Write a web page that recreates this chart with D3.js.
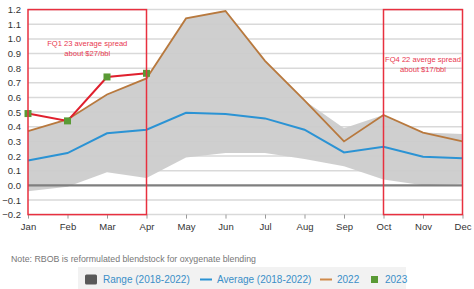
<!DOCTYPE html>
<html><head><meta charset="utf-8">
<script src="https://cdn.jsdelivr.net/npm/d3@7"></script>
<style>body{margin:0;background:#fff}svg{display:block;font-family:"Liberation Sans",Arial,sans-serif}</style>
</head><body><svg id="c" width="474" height="289"></svg>
<script>
const months = ["Jan","Feb","Mar","Apr","May","Jun","Jul","Aug","Sep","Oct","Nov","Dec"];
const yTicks = [-0.2,-0.1,0.0,0.1,0.2,0.3,0.4,0.5,0.6,0.7,0.8,0.9,1.0,1.1,1.2];
const rangeLow  = [-0.04,-0.01,0.09,0.05,0.19,0.22,0.22,0.18,0.13,0.04,0.00,0.01];
const rangeHigh = [0.37,0.45,0.62,0.73,1.14,1.19,0.85,0.58,0.39,0.48,0.36,0.35];
const avg = [0.17,0.22,0.355,0.38,0.495,0.487,0.457,0.38,0.225,0.263,0.195,0.185];
const y2022 = [0.37,0.45,0.62,0.73,1.14,1.19,0.85,0.58,0.30,0.48,0.36,0.30];
const y2023 = [0.49,0.44,0.74,0.765];
const notes = [
  {from:"Jan",to:"Apr",lines:["FQ1 23 average spread","about $27/bbl"],ty:0.95},
  {from:"Oct",to:"Dec",lines:["FQ4 22 averge spread","about $17/bbl"],ty:0.84}
];

const svg = d3.select("#c");
const x = d3.scalePoint().domain(months).range([28,462.5]);
const y = d3.scaleLinear().domain([-0.2,1.2]).range([214.6,9.6]);

// gridlines
svg.append("g").selectAll("line").data(yTicks.filter(v=>Math.abs(v)>1e-9)).join("line")
  .attr("x1",28).attr("x2",462.5).attr("y1",d=>y(d)).attr("y2",d=>y(d))
  .attr("stroke","#d9d9d9").attr("stroke-width",1.5);

// range band
const area = d3.area().x((d,i)=>x(months[i])).y0((d,i)=>y(rangeLow[i])).y1(d=>y(d));
svg.append("path").datum(rangeHigh).attr("d",area).attr("fill","#cccccc").attr("opacity",0.95);

// zero line
svg.append("line").attr("x1",28).attr("x2",462.5).attr("y1",y(0)).attr("y2",y(0))
  .attr("stroke","#7f7f7f").attr("stroke-width",2.2);

// y axis labels
const yAxis = d3.axisLeft(y).tickValues(yTicks).tickFormat(d3.format(".1f")).tickSize(0).tickPadding(7);
const ga = svg.append("g").attr("transform","translate(28,0)").call(yAxis);
ga.select(".domain").remove();
ga.selectAll("text").attr("font-size",9.5).attr("fill","#333").style("font-family","Liberation Sans, Arial");

// x axis
const xAxis = d3.axisBottom(x).tickSize(4).tickPadding(5);
const gx = svg.append("g").attr("transform",`translate(0,${y(-0.2)})`).call(xAxis);
gx.select(".domain").remove();
gx.selectAll("line").attr("stroke","#999");
gx.selectAll("text").attr("font-size",9.5).attr("fill","#333").style("font-family","Liberation Sans, Arial");

// lines
const line = d3.line().x((d,i)=>x(months[i])).y(d=>y(d));
svg.append("path").datum(avg).attr("d",line).attr("fill","none").attr("stroke","#2b93d4").attr("stroke-width",2);
svg.append("path").datum(y2022).attr("d",line).attr("fill","none").attr("stroke","#b8793e").attr("stroke-width",1.8);
svg.append("path").datum(y2023).attr("d",line).attr("fill","none").attr("stroke","#e0202e").attr("stroke-width",2);
svg.append("g").selectAll("rect").data(y2023).join("rect")
  .attr("x",(d,i)=>x(months[i])-3.5).attr("y",d=>y(d)-3.5).attr("width",7).attr("height",7)
  .attr("fill","#5a9a35");

// annotation boxes
notes.forEach(n=>{
  svg.append("rect").attr("x",x(n.from)).attr("y",y(1.2)).attr("width",x(n.to)-x(n.from))
    .attr("height",y(-0.2)-y(1.2)).attr("fill","none").attr("stroke","#e8303f").attr("stroke-width",1.5);
  const cx=(x(n.from)+x(n.to))/2;
  n.lines.forEach((t,k)=>{
    svg.append("text").attr("x",cx).attr("y",y(n.ty)+k*9.5).attr("text-anchor","middle")
      .attr("font-size",7.6).attr("fill","#e8384f").style("font-family","Liberation Sans, Arial").text(t);
  });
});

// note
svg.append("text").attr("x",11).attr("y",262).attr("font-size",8.8).attr("fill","#777")
  .text("Note: RBOB is reformulated blendstock for oxygenate blending");

// legend
const lg = svg.append("g");
lg.append("rect").attr("x",78).attr("y",267).attr("width",328).attr("height",22).attr("fill","#f2f2f2");
const ly = 279.5, tc = "#3a8fc8";
lg.append("rect").attr("x",85).attr("y",ly-5).attr("width",12).attr("height",10).attr("rx",1.5).attr("fill","#595959");
lg.append("text").attr("x",103).attr("y",ly+3.5).attr("font-size",10).attr("fill",tc).text("Range (2018-2022)");
lg.append("line").attr("x1",200).attr("x2",212).attr("y1",ly).attr("y2",ly).attr("stroke","#2b93d4").attr("stroke-width",2);
lg.append("text").attr("x",217).attr("y",ly+3.5).attr("font-size",10).attr("fill",tc).text("Average (2018-2022)");
lg.append("line").attr("x1",320).attr("x2",332).attr("y1",ly).attr("y2",ly).attr("stroke","#d08a4a").attr("stroke-width",2);
lg.append("text").attr("x",337).attr("y",ly+3.5).attr("font-size",10).attr("fill",tc).text("2022");
lg.append("rect").attr("x",371).attr("y",ly-3.5).attr("width",7).attr("height",7).attr("fill","#5a9a35");
lg.append("text").attr("x",385).attr("y",ly+3.5).attr("font-size",10).attr("fill",tc).text("2023");
</script></body></html>
